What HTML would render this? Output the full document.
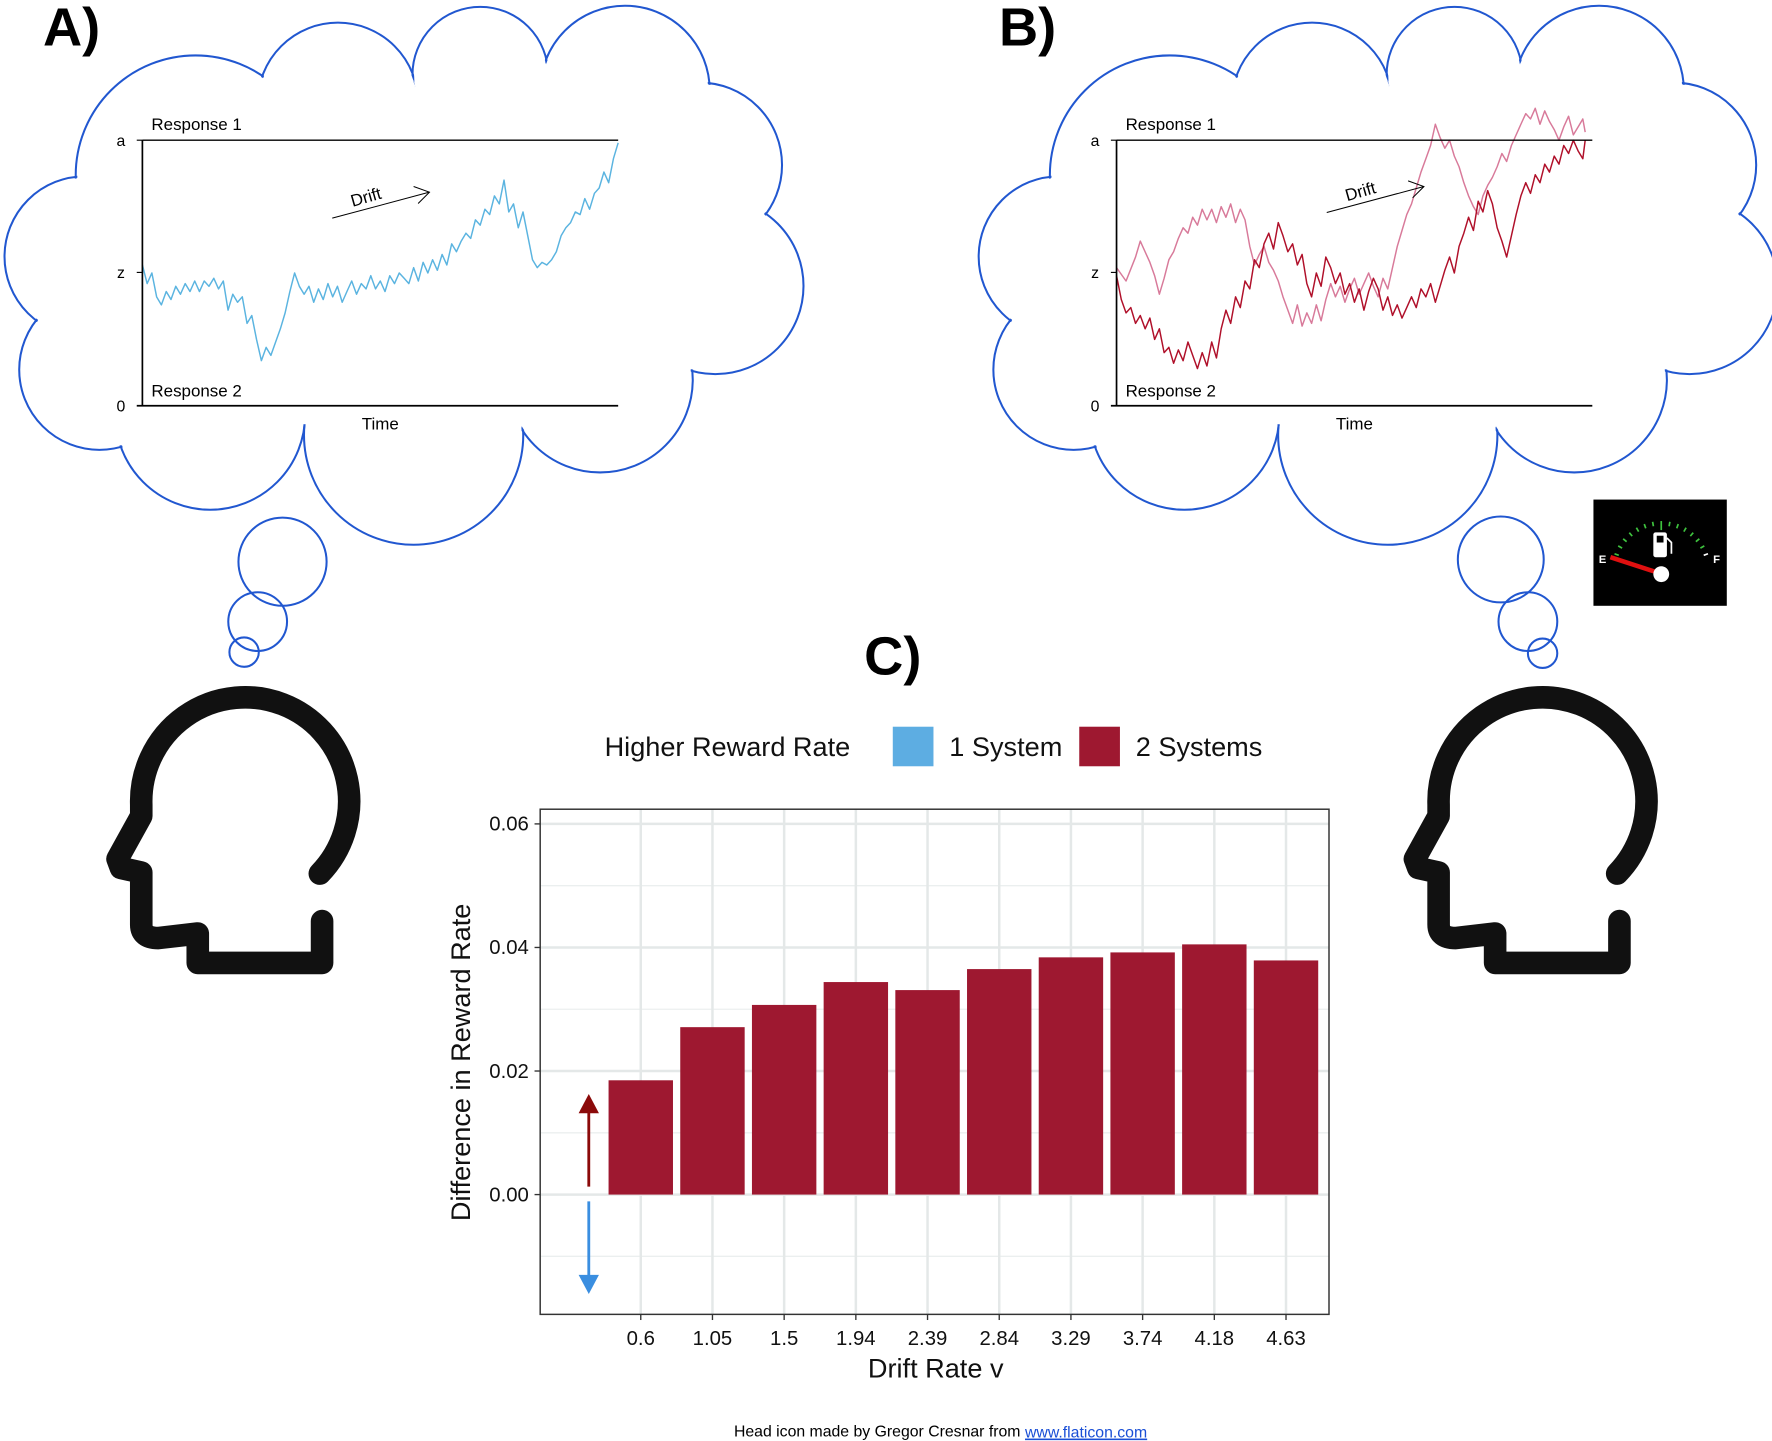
<!DOCTYPE html>
<html><head><meta charset="utf-8"><style>
html,body{margin:0;padding:0;background:#fff;}
svg{display:block;}
text{font-family:"Liberation Sans",sans-serif;}
</style></head><body>
<svg id="fig" width="1772" height="1441" viewBox="0 0 1568 1275" xmlns="http://www.w3.org/2000/svg">
<rect width="1568" height="1275" fill="#fff"/>
<g id="cloudA"></g>
<g id="cloudB" transform="translate(862,0)"></g>
<text x="38" y="40" font-size="48" font-weight="bold">A)</text>
<text x="884" y="40" font-size="48" font-weight="bold">B)</text>
<text x="790" y="597" font-size="48" font-weight="bold" text-anchor="middle">C)</text>

<g id="ddmA"></g>
<g id="ddmB"></g>

<g id="heads"></g>

<g id="gauge">
<rect x="1410" y="442" width="118" height="94" fill="#000"/>
<g id="gticks"></g>
<text x="1418" y="498" font-size="10" fill="#fff" font-weight="bold" text-anchor="middle">E</text>
<text x="1519" y="498" font-size="10" fill="#fff" font-weight="bold" text-anchor="middle">F</text>
<rect x="1463" y="471" width="12" height="22" rx="2" fill="#fff"/>
<rect x="1466" y="474" width="6" height="6" fill="#000"/>
<path d="M1475 476 l4 4 v10" stroke="#fff" stroke-width="1.5" fill="none"/>
<line x1="1425" y1="493" x2="1468" y2="507" stroke="#e01010" stroke-width="4"/>
<circle cx="1470" cy="508" r="7" fill="#fff"/>
</g>

<g id="chart"></g>

<text x="903" y="1271" font-size="14" text-anchor="end" font-family="DejaVu Sans, sans-serif">Head icon made by Gregor Cresnar from </text>
<text x="907" y="1272" font-size="14" fill="#1a4fd6" text-decoration="underline" font-family="DejaVu Sans, sans-serif">www.flaticon.com</text>
</svg>
<script>
const NS="http://www.w3.org/2000/svg";
function mk(tag,attrs,parent){const e=document.createElementNS(NS,tag);for(const k in attrs)e.setAttribute(k,attrs[k]);if(parent)parent.appendChild(e);return e;}

// ---- bar chart data ----
const categories=["0.6","1.05","1.5","1.94","2.39","2.84","3.29","3.74","4.18","4.63"];
const values=[0.0185,0.0271,0.0307,0.0344,0.0331,0.0365,0.0384,0.0392,0.0405,0.0379];
const yTicks=[0,0.02,0.04,0.06];
const yTickLabels=["0.00","0.02","0.04","0.06"];
const yMinor=[-0.01,0.01,0.03,0.05];

// ---- walk data (time fraction, evidence fraction: 0 = lower bound, 0.5 = z, 1 = a) ----
const walkA_t=[0,0.01,0.02,0.03,0.04,0.05,0.06,0.07,0.08,0.09,0.1,0.11,0.12,0.13,0.14,0.15,0.16,0.17,0.18,0.19,0.2,0.21,0.22,0.23,0.24,0.25,0.26,0.27,0.28,0.29,0.3,0.31,0.32,0.33,0.34,0.35,0.36,0.37,0.38,0.39,0.4,0.41,0.42,0.43,0.44,0.45,0.46,0.47,0.48,0.49,0.5,0.51,0.52,0.53,0.54,0.55,0.56,0.57,0.58,0.59,0.6,0.61,0.62,0.63,0.64,0.65,0.66,0.67,0.68,0.69,0.7,0.71,0.72,0.73,0.74,0.75,0.76,0.77,0.78,0.79,0.8,0.81,0.82,0.83,0.84,0.85,0.86,0.87,0.88,0.89,0.9,0.91,0.92,0.93,0.94,0.95,0.96,0.97,0.98,0.99,1];
const walkA_e=[0.53,0.46,0.5,0.41,0.38,0.43,0.4,0.45,0.42,0.46,0.43,0.47,0.43,0.47,0.45,0.48,0.44,0.47,0.36,0.42,0.39,0.41,0.31,0.34,0.25,0.17,0.22,0.19,0.24,0.29,0.35,0.43,0.5,0.45,0.42,0.45,0.39,0.44,0.4,0.46,0.41,0.45,0.39,0.43,0.47,0.42,0.46,0.44,0.49,0.44,0.47,0.43,0.49,0.46,0.5,0.48,0.46,0.52,0.47,0.54,0.5,0.55,0.51,0.57,0.53,0.61,0.58,0.62,0.65,0.63,0.7,0.68,0.74,0.72,0.79,0.76,0.85,0.73,0.76,0.67,0.73,0.64,0.55,0.52,0.54,0.53,0.55,0.58,0.64,0.67,0.69,0.73,0.72,0.78,0.74,0.8,0.82,0.88,0.84,0.93,0.99];
const walkB1_t=[0,0.02,0.04,0.05,0.07,0.08,0.09,0.1,0.11,0.12,0.13,0.14,0.15,0.16,0.17,0.18,0.19,0.2,0.21,0.22,0.23,0.24,0.25,0.26,0.27,0.28,0.29,0.3,0.31,0.32,0.33,0.34,0.35,0.36,0.37,0.38,0.39,0.4,0.41,0.42,0.43,0.44,0.45,0.46,0.47,0.48,0.49,0.5,0.51,0.52,0.53,0.54,0.55,0.56,0.57,0.58,0.59,0.6,0.61,0.62,0.63,0.64,0.65,0.66,0.67,0.68,0.69,0.7,0.71,0.72,0.73,0.74,0.75,0.76,0.77,0.78,0.79,0.8,0.81,0.82,0.83,0.84,0.85,0.86,0.87,0.88,0.89,0.9,0.91,0.92,0.93,0.94,0.95,0.96,0.97,0.98,0.985];
const walkB1_e=[0.52,0.47,0.56,0.62,0.54,0.49,0.42,0.48,0.55,0.58,0.63,0.67,0.65,0.71,0.68,0.74,0.7,0.74,0.69,0.75,0.71,0.76,0.69,0.74,0.7,0.6,0.53,0.57,0.6,0.54,0.51,0.47,0.41,0.36,0.31,0.38,0.3,0.35,0.31,0.38,0.32,0.4,0.46,0.41,0.45,0.39,0.44,0.48,0.42,0.46,0.5,0.45,0.41,0.48,0.44,0.52,0.6,0.66,0.72,0.76,0.82,0.88,0.93,0.98,1.06,1.01,0.97,1.0,0.94,0.9,0.84,0.79,0.75,0.72,0.79,0.83,0.86,0.9,0.95,0.92,0.98,1.02,1.06,1.1,1.08,1.12,1.06,1.11,1.07,1.04,1.0,1.05,1.09,1.02,1.05,1.08,1.03];
const walkB2_t=[0,0.01,0.02,0.03,0.04,0.05,0.06,0.07,0.08,0.09,0.1,0.11,0.12,0.13,0.14,0.15,0.16,0.17,0.18,0.19,0.2,0.21,0.22,0.23,0.24,0.25,0.26,0.27,0.28,0.29,0.3,0.31,0.32,0.33,0.34,0.35,0.36,0.37,0.38,0.39,0.4,0.41,0.42,0.43,0.44,0.45,0.46,0.47,0.48,0.49,0.5,0.51,0.52,0.53,0.54,0.55,0.56,0.57,0.58,0.59,0.6,0.61,0.62,0.63,0.64,0.65,0.66,0.67,0.68,0.69,0.7,0.71,0.72,0.73,0.74,0.75,0.76,0.77,0.78,0.79,0.8,0.81,0.82,0.83,0.84,0.85,0.86,0.87,0.88,0.89,0.9,0.91,0.92,0.93,0.94,0.95,0.96,0.97,0.98,0.985];
const walkB2_e=[0.49,0.4,0.35,0.37,0.31,0.34,0.29,0.33,0.25,0.29,0.2,0.22,0.16,0.21,0.17,0.24,0.19,0.14,0.2,0.15,0.24,0.18,0.29,0.36,0.31,0.41,0.37,0.47,0.44,0.55,0.52,0.61,0.65,0.59,0.69,0.64,0.58,0.61,0.53,0.57,0.46,0.41,0.5,0.45,0.56,0.52,0.46,0.5,0.42,0.46,0.39,0.44,0.36,0.43,0.48,0.44,0.36,0.41,0.34,0.38,0.33,0.37,0.41,0.37,0.44,0.41,0.46,0.39,0.45,0.51,0.56,0.5,0.6,0.65,0.71,0.66,0.77,0.73,0.81,0.76,0.67,0.62,0.56,0.64,0.72,0.79,0.84,0.8,0.87,0.84,0.91,0.88,0.94,0.91,0.98,0.95,1.0,0.96,0.93,1.0];

// ---- clouds ----
const cloudCircles=[[75,227,71],[173,155,106],[299,91,71],[425,66,60],[553,80,75],[619,146,73],[633,253,78],[531,336,82],[366,385,97],[186,367,84],[88,327,71]];
const bubblesA=[[250,497,39],[228,550,26],[216,577,13]];
const bubblesB=[[1328,495,38],[1352,550,26],[1365,578,13]];
["cloudA","cloudB"].forEach(id=>{
  const g=document.getElementById(id);
  cloudCircles.forEach(c=>{const e=mk("circle",{cx:c[0],cy:c[1],r:c[2],fill:"none",stroke:"#2157d0","stroke-width":1.8},g);
    
    });
  cloudCircles.forEach(c=>{mk("circle",{cx:c[0],cy:c[1],r:c[2]-1.4,fill:"#fff"},g);});
  mk("polygon",{points:cloudCircles.map(c=>c[0]+","+c[1]).join(" "),fill:"#fff"},g);
});
const fig=document.getElementById("fig");
const bubG=mk("g",{},fig);


fig.insertBefore(bubG,document.getElementById("ddmA"));
bubblesA.concat(bubblesB).forEach(b=>mk("circle",{cx:b[0],cy:b[1],r:b[2],fill:"none",stroke:"#2157d0","stroke-width":1.8},bubG));

// ---- DDM diagrams ----
function ddm(gid,ox,walks){
  const g=document.getElementById(gid);
  const L=ox+126,R=ox+547,T=124,B=359,Z=241;
  const X=t=>L+t*(R-L), Y=e=>B-e*(B-T);
  walks.forEach(w=>{
    const pts=w.t.map((tt,i)=>X(tt).toFixed(1)+","+Y(w.e[i]).toFixed(1)).join(" ");
    const p=mk("polyline",{points:pts,fill:"none",stroke:w.c,"stroke-width":1.3,"stroke-linejoin":"round"},g);
    
    
  });
  mk("line",{x1:L,y1:T,x2:R,y2:T,stroke:"#000","stroke-width":1.2},g);
  mk("line",{x1:L-5,y1:B,x2:R,y2:B,stroke:"#000","stroke-width":1.5},g);
  mk("line",{x1:L,y1:T,x2:L,y2:B,stroke:"#000","stroke-width":1.5},g);
  mk("line",{x1:L-5,y1:T,x2:L,y2:T,stroke:"#000"},g);
  mk("line",{x1:L-5,y1:Z,x2:L,y2:Z,stroke:"#000"},g);
  [["a",T],["z",Z],["0",B]].forEach(d=>{const t=mk("text",{x:L-19,y:d[1]+5,"font-size":14,"text-anchor":"middle"},g);t.textContent=d[0];});
  let t=mk("text",{x:L+8,y:T-9,"font-size":15},g);t.textContent="Response 1";
  t=mk("text",{x:L+8,y:B-8,"font-size":15},g);t.textContent="Response 2";
  t=mk("text",{x:(L+R)/2,y:B+21,"font-size":15,"text-anchor":"middle"},g);t.textContent="Time";
  const dg=mk("g",{},g);
  const ax=ox+(gid==="ddmA"?294:312), ay=gid==="ddmA"?193:188;
  const ex=ax+86, ey=ay-23;
  mk("line",{x1:ax,y1:ay,x2:ex,y2:ey,stroke:"#000","stroke-width":0.9},dg);
  mk("polyline",{points:`${ex-14},${ey-5} ${ex},${ey} ${ex-10},${ey+10}`,fill:"none",stroke:"#000","stroke-width":0.9},dg);
  t=mk("text",{x:ax+18,y:ay-10,"font-size":15,transform:`rotate(-16 ${ax+18} ${ay-10})`},dg);t.textContent="Drift";
}
ddm("ddmA",0,[{t:walkA_t,e:walkA_e,c:"#5bb4e0"}]);
ddm("ddmB",862,[{t:walkB1_t,e:walkB1_e,c:"#d87a9a"},{t:walkB2_t,e:walkB2_e,c:"#b0102a"}]);

// ---- heads ----
const headPath="M283 773 A92 92 0 1 0 125 712 L125 722 L104 760 L107 768 L125 772 L125 818 Q125 830 140 830 L175 826 L175 852 L285 852 L285 815";
[0,1148].forEach((dx,i)=>{
  const p=mk("path",{d:headPath,transform:`translate(${dx},0)`,fill:"none",stroke:"#111","stroke-width":20,"stroke-linecap":"round","stroke-linejoin":"round"},document.getElementById("heads"));
  
  
});

// ---- gauge ticks ----
(function(){const g=document.getElementById("gticks");for(let k=0;k<=14;k++){const a=(160-k*10)*Math.PI/180;const r1=44,r2=k===7?36:40;
  mk("line",{x1:1470+r1*Math.cos(a),y1:505-r1*Math.sin(a),x2:1470+r2*Math.cos(a),y2:505-r2*Math.sin(a),stroke:k===14?"#fff":"#3ec23e","stroke-width":1.5},g);}})();

// ---- bar chart ----
(function(){
  const g=document.getElementById("chart");
  const L=478,R=1176,T=716,B=1163;
  const y0=1057, pxPerUnit=(1057-729)/0.06;
  const Y=v=>y0-v*pxPerUnit;
  const step=63.44, X=i=>567+i*step, bw=57;
  mk("rect",{x:L,y:T,width:R-L,height:B-T,fill:"#fff"},g);
  yMinor.forEach(v=>mk("line",{x1:L,x2:R,y1:Y(v),y2:Y(v),stroke:"#ebefef","stroke-width":1.2},g));
  yTicks.forEach(v=>mk("line",{x1:L,x2:R,y1:Y(v),y2:Y(v),stroke:"#e4e8e8","stroke-width":2.2},g));
  categories.forEach((c,i)=>mk("line",{x1:X(i),x2:X(i),y1:T,y2:B,stroke:"#e4e8e8","stroke-width":2.2},g));
  values.forEach((v,i)=>{
    const r=mk("rect",{x:X(i)-bw/2,y:Math.min(Y(v),y0),width:bw,height:Math.abs(Y(v)-y0),fill:"#9e1830"},g);
    
    
  });
  mk("rect",{x:L,y:T,width:R-L,height:B-T,fill:"none",stroke:"#333","stroke-width":1.3},g);
  yTicks.forEach((v,i)=>{
    mk("line",{x1:L-5,x2:L,y1:Y(v),y2:Y(v),stroke:"#333","stroke-width":1.2},g);
    const t=mk("text",{x:L-10,y:Y(v)+6,"font-size":18,"text-anchor":"end",fill:"#111"},g);t.textContent=yTickLabels[i];
    
    
  });
  categories.forEach((c,i)=>{
    mk("line",{x1:X(i),x2:X(i),y1:B,y2:B+5,stroke:"#333","stroke-width":1.2},g);
    const t=mk("text",{x:X(i),y:B+27,"font-size":18,"text-anchor":"middle",fill:"#111"},g);t.textContent=c;
    
    
  });
  let t=mk("text",{x:828,y:1219,"font-size":24,"text-anchor":"middle",fill:"#111"},g);t.textContent="Drift Rate v";
  
  
  t=mk("text",{x:0,y:0,"font-size":24,"text-anchor":"middle",fill:"#111",transform:"translate(416,940) rotate(-90)"},g);t.textContent="Difference in Reward Rate";
  
  
  mk("line",{x1:521,y1:1050,x2:521,y2:980,stroke:"#8b0a0a","stroke-width":2.5},g);
  mk("polygon",{points:"512,985 521,968 530,985",fill:"#8b0a0a"},g);
  mk("line",{x1:521,y1:1063,x2:521,y2:1133,stroke:"#3a8ee0","stroke-width":2.5},g);
  mk("polygon",{points:"512,1128 521,1145 530,1128",fill:"#3a8ee0"},g);
  const lg=mk("g",{},g);
  
  
  t=mk("text",{x:535,y:669,"font-size":24,fill:"#111"},lg);t.textContent="Higher Reward Rate";
  mk("rect",{x:790,y:643,width:36,height:35,fill:"#5dade2"},lg);
  t=mk("text",{x:840,y:669,"font-size":24,fill:"#111"},lg);t.textContent="1 System";
  mk("rect",{x:955,y:643,width:36,height:35,fill:"#9e1830"},lg);
  t=mk("text",{x:1005,y:669,"font-size":24,fill:"#111"},lg);t.textContent="2 Systems";
})();
</script>
</body></html>
